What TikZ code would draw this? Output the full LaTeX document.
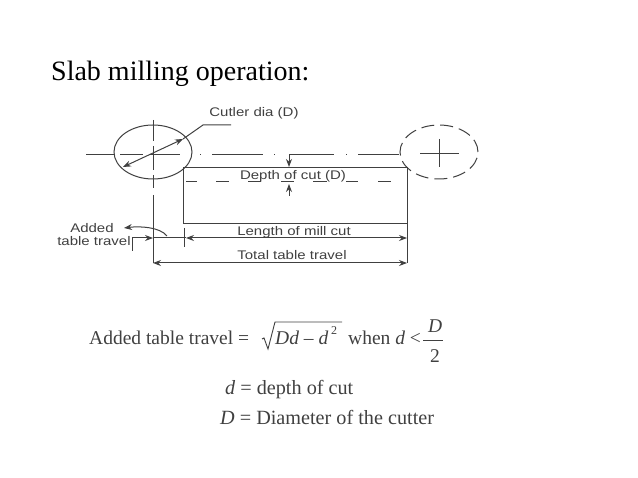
\documentclass[tikz,border=0pt]{standalone}
\usepackage{fontspec}
\setmainfont{Liberation Serif}
\newfontfamily\lab{Liberation Sans}
\usetikzlibrary{arrows.meta,shapes.geometric}
\definecolor{ink}{gray}{0.25}
\newcommand{\labw}[1]{\scalebox{1.2}[1]{#1}}
\tikzset{
  ln/.style={draw=ink,line width=1pt},
  ar/.style={ln,-{Stealth[length=8pt,width=6pt]}},
  ardbl/.style={ln,{Stealth[length=8pt,width=6pt]}-{Stealth[length=8pt,width=6pt]}},
  labtxt/.style={anchor=base,inner sep=0pt,text=ink,font=\lab\fontsize{12.5}{12.5}\selectfont},
  ftxt/.style={anchor=base west,inner sep=0pt,text=black!75,font=\fontsize{19.5}{19.5}\selectfont},
  ftxtb/.style={ftxt,font=\fontsize{20.2}{20.2}\selectfont},
  title/.style={anchor=base west,inner sep=0pt,text=black,font=\fontsize{28}{28}\selectfont},
  cutter/.style={ellipse,ln,minimum width=78pt,minimum height=54pt,inner sep=0pt},
  formline/.style={draw=black!75,line width=0.9pt}
}
\begin{document}
\begin{tikzpicture}[x=1pt,y=-1pt]
\useasboundingbox (0,0) rectangle (638,478);
\node[title] (ttl) at (51,81) {Slab milling operation:};
% cutters
\node[cutter] (cut) at (153,152) {};
\node[cutter,dash pattern=on 13pt off 6pt] (cutb) at (439,152) {};
% workpiece
\coordinate (tl) at (183,168);
\coordinate (tr) at (407,168);
\coordinate (bl) at (183,224);
\coordinate (br) at (407,224);
\coordinate (rb) at (407,263);
\draw[ln] (tl) -- (tr) -- (br) -- (bl) -- cycle;
\draw[ln] (br) -- (rb);
% centre line
\draw[ln] (86,155) -- (115,155) (120,155) -- (143,155) (149,155) -- (180,155);
\draw[ln] (200,155) -- (201,155) (212,155) -- (263,155) (274,155) -- (275,155) (289,155) -- (334,155) (346,155) -- (347,155) (358,155) -- (399,155);
% dashed depth line
\draw[ln] (186,182) -- (197,182) (216,182) -- (229,182) (248,182) -- (261,182) (281,182) -- (294,182) (313,182) -- (327,182) (346,182) -- (358,182) (378,182) -- (391,182);
% cutter centre vertical
\draw[ln] (153,120) -- (153,141) (153,146) -- (153,170) (153,175) -- (153,188) (153,195) -- (153,263);
% second cutter cross
\draw[ln] (420,154) -- (459,154) (439,139) -- (439,167);
% diameter + leader
\coordinate (dl) at (123,167);
\coordinate (dr) at (183,139);
\coordinate (ldr) at (203,125);
\coordinate (lde) at (231,125);
\draw[ardbl] (dl) -- (dr);
\draw[ln] (dr) -- (ldr) -- (lde);
\node[labtxt] (lcd) at (254,117) {\labw{Cutler dia (D)}};
% depth of cut
\coordinate (da) at (289,155);
\coordinate (db) at (289,167);
\coordinate (dc) at (289,196);
\coordinate (dd) at (289,184);
\draw[ar] (da) -- (db);
\draw[ar] (dc) -- (dd);
\node[labtxt] (ldc) at (293,180) {\labw{Depth of cut (D)}};
% length of mill cut
\coordinate (ms) at (153,238);
\coordinate (me) at (407,238);
\coordinate (mt) at (186,238);
\draw[ln] (184,228) -- (184,247);
\draw[ardbl] (mt) -- (me);
\draw[ln] (ms) -- (mt);
\node[labtxt] (llm) at (294,236) {\labw{Length of mill cut}};
% total
\coordinate (ts) at (153,263);
\coordinate (te) at (407,263);
\draw[ardbl] (ts) -- (te);
\node[labtxt] (ltt) at (292,260) {\labw{Total table travel}};
% added
\coordinate (bk) at (132,238);
\coordinate (bkb) at (132,251);
\draw[ln] (bkb) -- (bk);
\draw[ar] (bk) -- (ms);
\draw[ar] (167,236) .. controls (160,227) and (140,226) .. (124,228);
\node[labtxt] (lat) at (92,233) {\labw{Added}};
\node[labtxt] (ltv) at (94,246) {\labw{table travel}};
% formula
\node[ftxt] (f1) at (89,345) {Added table travel =};
\coordinate (r0) at (262,339);
\coordinate (r1) at (264,338);
\coordinate (r2) at (268,349);
\coordinate (r3) at (275,322);
\coordinate (r4) at (342,322);
\draw[formline] (r0) -- (r1) -- (r2) -- (r3) -- (r4);
\node[ftxt] (f2) at (275,345) {\textit{Dd} – \textit{d}};
\node[ftxt,font=\fontsize{12}{12}\selectfont] (f3) at (331,335) {2};
\node[ftxt] (f4) at (348,345) {when \textit{d} <};
\node[ftxt] (f5) at (428,333) {\textit{D}};
\node[ftxt] (f6) at (430,363) {2};
\draw[formline] (423,340) -- (443,340);
\node[ftxtb] (f7) at (225,395) {\textit{d} = depth of cut};
\node[ftxtb] (f8) at (220,425) {\textit{D} = Diameter of the cutter};
\end{tikzpicture}
\end{document}
